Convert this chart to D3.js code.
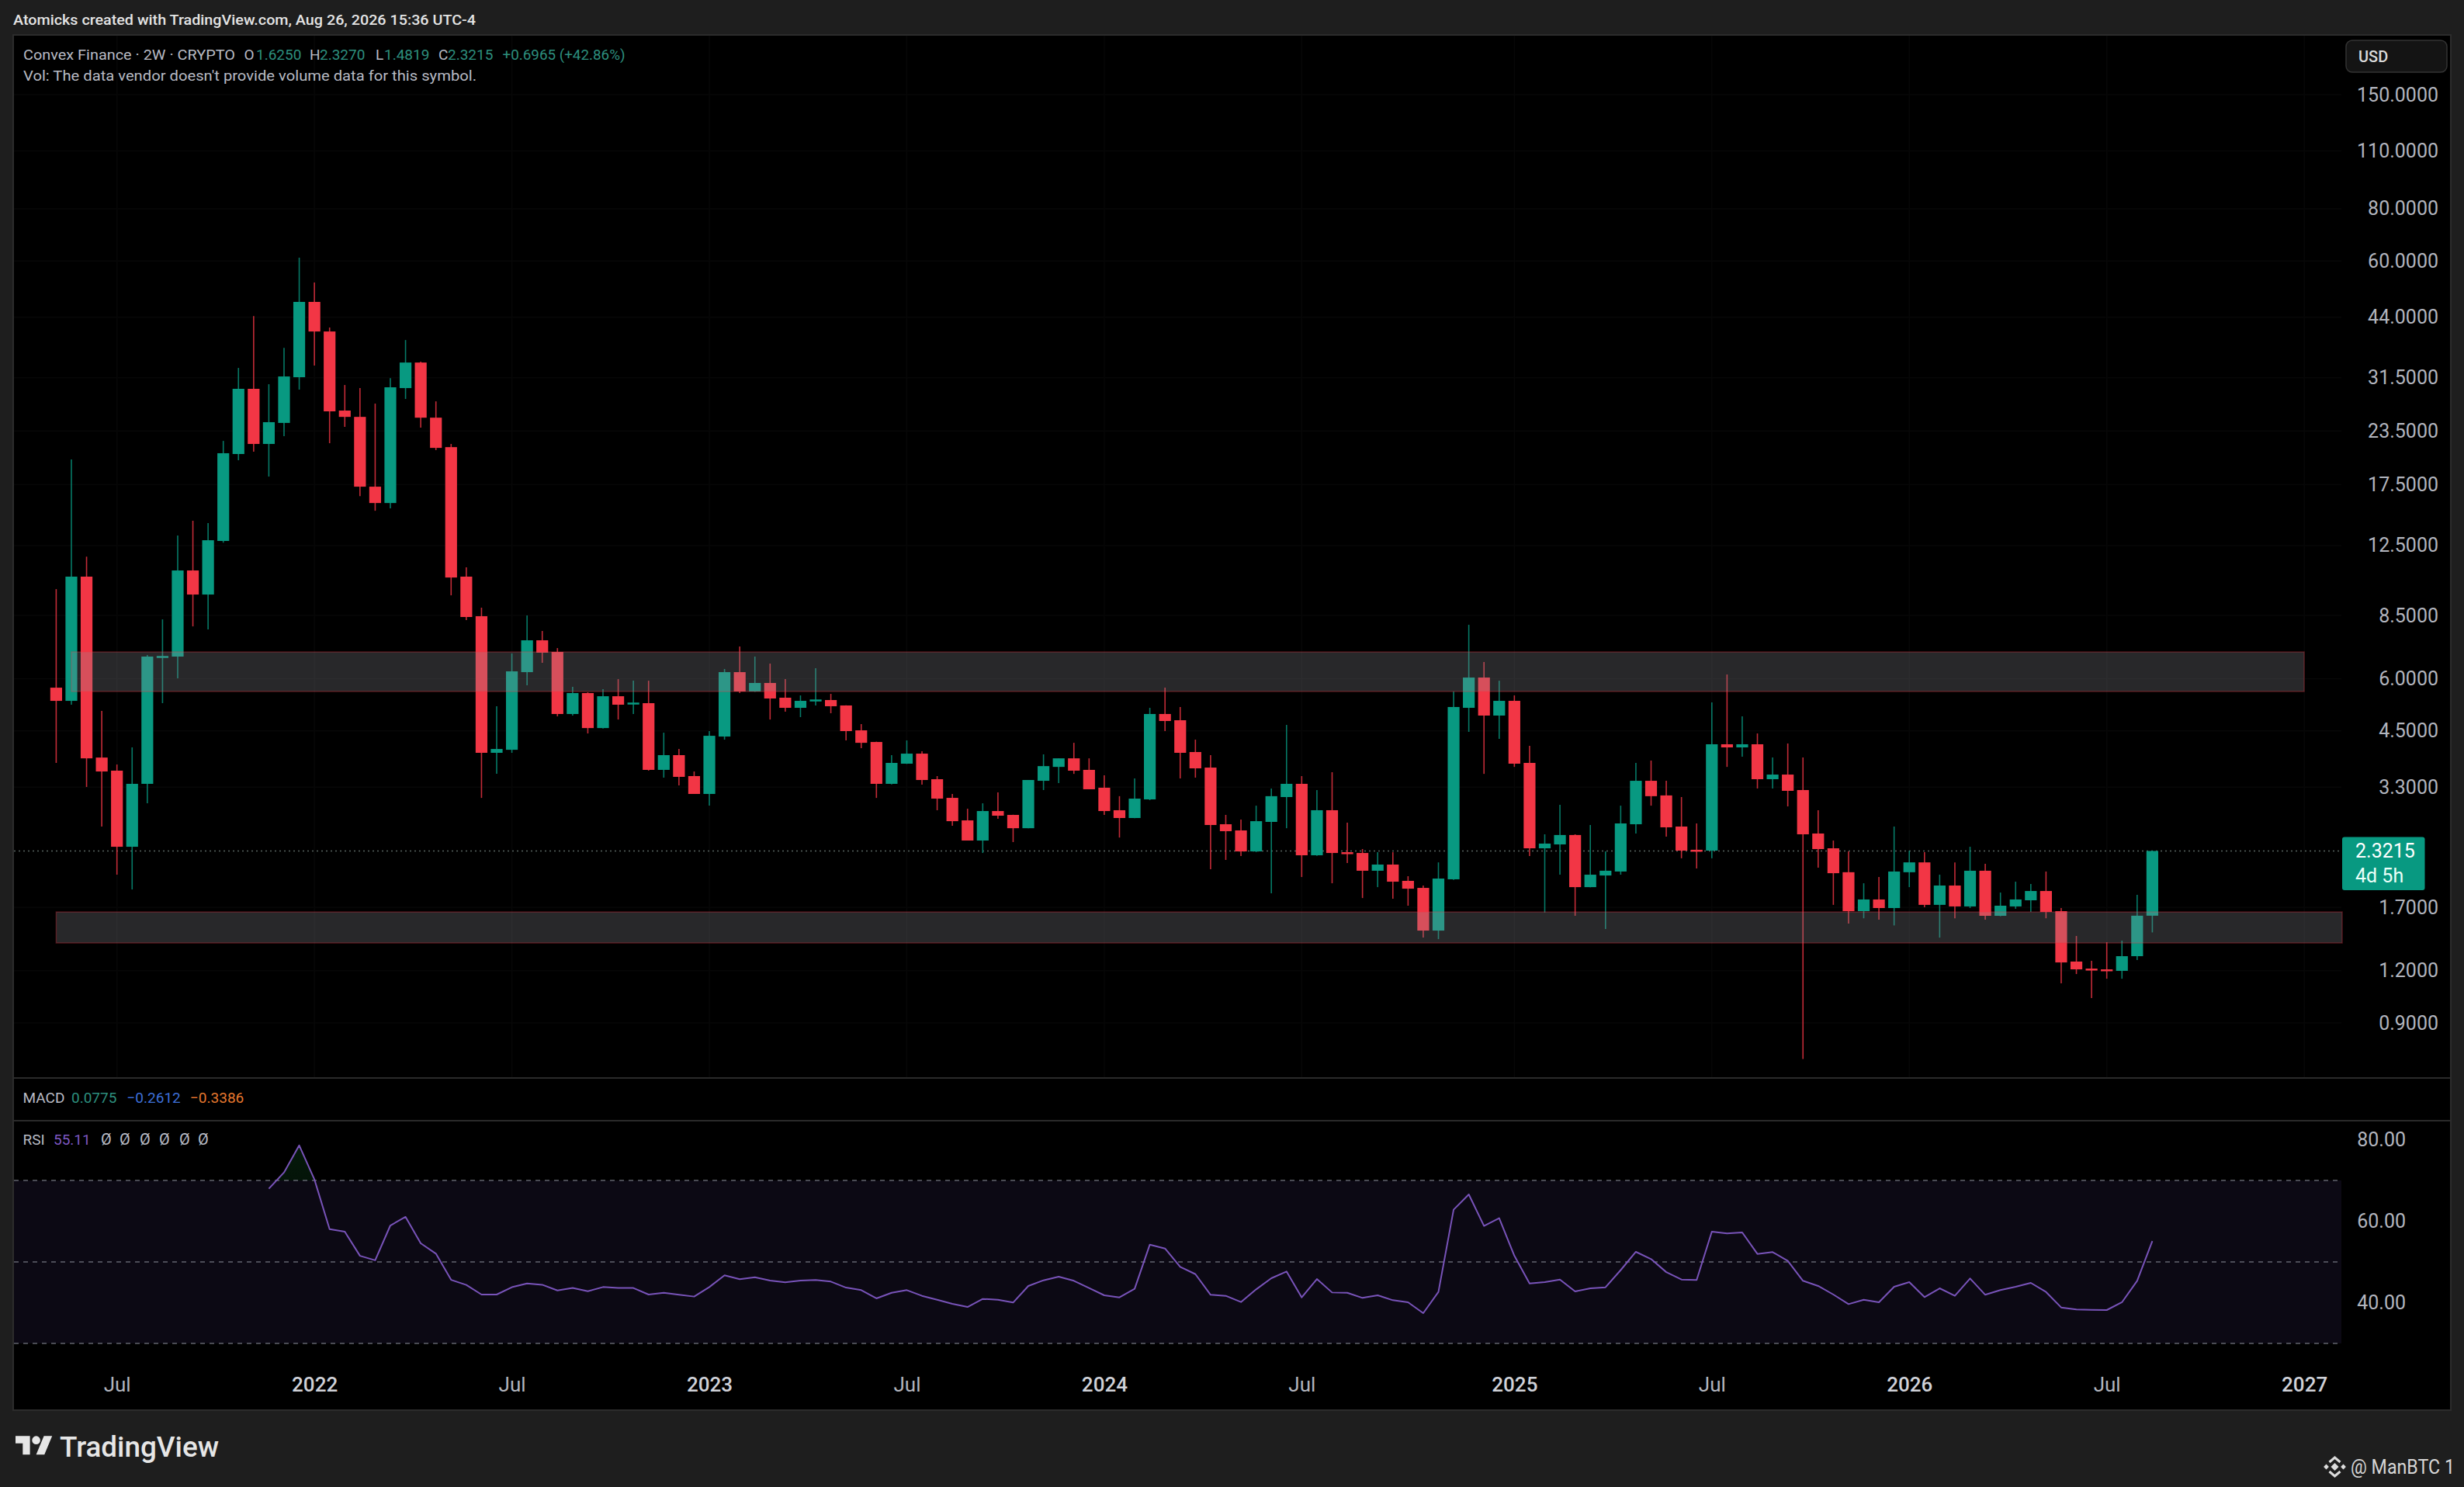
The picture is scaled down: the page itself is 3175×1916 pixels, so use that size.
<!DOCTYPE html>
<html><head><meta charset="utf-8">
<script src="https://cdn.jsdelivr.net/npm/d3@7/dist/d3.min.js"></script>
<style>html,body{margin:0;padding:0;background:#1e1e1e;overflow:hidden}svg{display:block}
text{font-family:Roboto,"Noto Sans",sans-serif}</style></head><body>
<svg id="c" width="3175" height="1916"></svg>
<script>
const open=[5.71,5.31,10.53,3.885,3.614,2.376,3.361,6.75,6.778,10.895,
9.541,12.82,20.70,29.65,21.88,24.57,31.61,47.87,40.67,26.30,
25.40,17.29,15.80,29.77,34.27,25.29,21.50,10.53,8.467,3.988,
4.055,6.221,7.414,6.954,4.939,5.543,4.571,5.447,5.22,5.243,
3.63,3.937,3.508,3.179,4.362,6.221,5.591,5.86,5.403,5.11,
5.32,5.334,5.177,4.514,4.233,3.361,3.756,3.97,3.448,3.111,
2.748,2.459,2.893,2.832,2.632,3.418,3.69,3.868,3.63,3.29,
2.906,2.784,3.085,4.939,4.772,4.005,3.676,2.69,2.6,2.316,
2.725,3.125,3.361,2.267,2.906,2.306,2.296,2.082,2.154,1.969,
1.894,1.497,1.986,5.11,6.038,4.897,5.311,3.772,2.356,2.407,
2.535,1.902,2.028,2.073,2.69,3.418,3.153,2.656,2.337,2.326,
4.18,4.109,4.18,3.448,3.537,3.248,2.556,2.356,2.065,1.666,
1.777,1.695,2.065,2.18,1.725,1.919,1.71,2.082,1.624,1.71,
1.769,1.862,1.666,1.262,1.214,1.209,1.199,1.30,1.625];
const close=[5.31,10.53,3.868,3.598,2.376,3.361,6.778,6.80,10.895,9.541,
12.87,20.79,29.65,21.88,24.67,31.74,47.87,40.67,26.19,25.40,
17.29,15.80,29.90,34.27,25.29,21.41,10.48,8.43,3.988,4.073,
6.248,7.414,6.924,4.939,5.543,4.571,5.447,5.199,5.26,3.63,
3.937,3.493,3.179,4.38,6.221,5.591,5.86,5.38,5.11,5.311,
5.35,5.155,4.495,4.214,3.361,3.772,3.97,3.433,3.098,2.736,
2.459,2.893,2.82,2.632,3.433,3.706,3.868,3.614,3.262,2.893,
2.784,3.098,4.939,4.752,3.988,3.661,2.679,2.589,2.316,2.736,
3.14,3.361,2.267,2.906,2.296,2.287,2.082,2.154,1.96,1.886,
1.497,1.994,5.133,6.038,4.897,5.311,3.756,2.356,2.418,2.535,
1.902,2.037,2.082,2.702,3.418,3.14,2.645,2.326,2.326,4.18,
4.109,4.18,3.448,3.537,3.234,2.545,2.346,2.054,1.666,1.777,
1.695,2.073,2.18,1.725,1.919,1.71,2.082,1.624,1.717,1.777,
1.862,1.659,1.256,1.209,1.204,1.204,1.30,1.625,2.3215];
const high=[9.83,20.09,11.76,5.022,3.739,4.109,6.836,8.32,13.209,14.33,
14.14,22.25,33.27,44.3,30.41,37.17,61.08,53.27,41.57,30.28,
29.77,27.33,31.46,38.8,34.42,27.67,21.88,11.08,8.874,5.155,
6.895,8.502,7.805,7.103,5.736,5.567,5.661,5.986,5.933,5.933,
4.456,4.073,3.598,4.495,6.33,7.165,6.778,6.521,5.986,5.472,
6.357,5.519,5.18,4.672,4.24,3.937,4.27,4.02,3.508,3.179,
2.93,3.019,3.206,2.835,3.433,3.954,3.868,4.214,3.868,3.522,
3.14,3.463,5.11,5.712,5.133,4.288,3.937,2.832,2.76,2.98,
3.276,4.651,3.508,3.248,3.583,2.714,2.346,2.306,2.306,2.02,
1.919,2.18,5.591,8.076,6.578,5.933,5.472,4.144,2.545,2.994,
2.545,2.679,2.316,2.98,3.772,3.821,3.418,3.125,2.702,5.265,
6.14,4.876,4.437,3.885,4.198,3.885,2.906,2.459,2.316,1.943,
2.011,2.656,2.326,2.306,2.037,2.18,2.376,2.163,1.846,1.96,
1.935,2.073,1.695,1.453,1.267,1.404,1.416,1.823,2.327];
const low=[3.772,5.199,3.303,2.656,2.037,1.878,3.019,5.243,6.013,8.005,
7.872,12.70,20.0,20.97,18.28,22.84,29.52,33.70,21.97,24.04,
16.42,15.14,15.34,28.04,23.94,21.15,9.50,8.287,3.11,3.551,
3.988,5.785,6.55,4.876,4.897,4.437,4.56,4.791,4.939,3.614,
3.478,3.332,3.179,2.98,4.288,5.543,5.58,4.791,5.0,4.855,
5.177,4.96,4.27,4.091,3.11,3.35,3.75,3.346,2.906,2.667,
2.459,2.296,2.772,2.438,2.63,3.248,3.375,3.551,3.262,2.832,
2.5,2.78,3.072,4.495,3.463,3.478,2.099,2.21,2.258,2.306,
1.838,2.632,2.011,2.26,1.943,2.172,1.791,1.902,1.784,1.717,
1.44,1.428,1.98,4.476,3.551,4.307,3.69,2.258,1.654,2.037,
1.624,1.9,1.51,2.037,2.556,2.98,2.512,2.23,2.108,2.23,
3.69,3.903,3.276,3.276,2.968,0.738,2.117,1.725,1.556,1.602,
1.589,1.54,1.902,1.702,1.44,1.602,1.695,1.589,1.62,1.688,
1.659,1.602,1.12,1.178,1.032,1.148,1.148,1.272,1.4819];
const rsiStart=14;
const rsi=[67.97,71.97,78.6,70.25,58.06,57.43,51.5,50.4,58.95,61.05,54.57,52.03,45.6,44.35,42.0,42.0,43.8,44.73,44.4,43.0,43.6,42.8,43.84,43.6,43.6,42.0,42.44,41.94,41.5,43.84,46.7,45.75,46.25,45.43,45.0,45.43,45.56,45.17,43.7,
43.08,41.05,42.44,43.08,41.68,40.73,39.71,38.95,40.92,40.73,40.03,44.1,45.49,46.38,45.37,43.59,41.81,41.3,43.4,54.25,53.3,48.8,47.0,41.94,41.68,40.16,43.27,46.0,47.65,41.3,45.8,42.5,42.44,41.17,41.81,40.6,40.1,37.43,42.63,62.83,66.57,58.83,60.73,51.52,44.73,45.05,45.68,42.76,43.52,43.78,48.0,52.48,50.7,47.5,45.68,45.56,57.43,56.98,57.24,51.97,52.41,50.25,45.37,44.1,42.0,39.65,40.73,40.1,43.9,45.05,41.37,43.52,41.68,45.94,41.94,43.08,43.9,44.86,42.63,38.83,38.32,38.25,38.19,40.1,45.37,55.11];
const priceTicks=[150,110,80,60,44,31.5,23.5,17.5,12.5,8.5,6,4.5,3.3,1.7,1.2,0.9];
const rsiTicks=[80,60,40];
const rsiLevels=[70,50,30];
const timeTickBars=[4,17,30,43,56,69,82,96,109,122,135,148];
const timeTickLabels=["Jul","2022","Jul","2023","Jul","2024","Jul","2025","Jul","2026","Jul","2027"];
const zones=[{top:6.954,bottom:5.591,from:1,to:148},{top:1.659,bottom:1.398,from:0,to:150.5}];
const lastPrice=2.3215, countdown="4d 5h";

const svg=d3.select("#c");
const UP="#089981",DOWN="#f23645",AXIS="#b2b5be";
const PL=18,PR=3017,W=3157;
const x=d3.scaleLinear().domain([0,138]).range([72.4,2773.4]);
const y=d3.scaleLog().domain([0.9,150]).range([1318,122]);
const yR=d3.scaleLinear().domain([30,70]).range([1731,1521]);

// frame
svg.append("rect").attr("width",3175).attr("height",1916).attr("fill","#1e1e1e");
svg.append("rect").attr("x",PL-1).attr("y",45).attr("width",W-PL+2).attr("height",1772).attr("fill","#000").attr("stroke","#2c2c2c").attr("stroke-width",2);

// grid
const grid=svg.append("g").attr("stroke","#070707").attr("stroke-width",1.5);
grid.selectAll("line.h").data(priceTicks).join("line").attr("x1",PL).attr("x2",PR).attr("y1",d=>y(d)).attr("y2",d=>y(d));
grid.selectAll("line.v").data(timeTickBars).join("line").attr("x1",d=>x(d)).attr("x2",d=>x(d)).attr("y1",46).attr("y2",1389);

// panes
svg.selectAll("line.sep").data([1389,1444]).join("line").attr("x1",PL).attr("x2",W).attr("y1",d=>d).attr("y2",d=>d).attr("stroke","#2a2a2a").attr("stroke-width",2);

// last price line
svg.append("line").attr("x1",PL).attr("x2",PR).attr("y1",y(lastPrice)).attr("y2",y(lastPrice)).attr("stroke","#7d8c88").attr("stroke-width",1.5).attr("stroke-dasharray","2 4").attr("opacity",.7);

// candles
const bars=d3.range(open.length).map(i=>({i,o:open[i],h:high[i],l:low[i],c:close[i]}));
const col=d=>d.c>=d.o?UP:DOWN;
const g=svg.append("g");
g.selectAll("line.wick").data(bars).join("line").attr("x1",d=>x(d.i)).attr("x2",d=>x(d.i)).attr("y1",d=>y(d.h)).attr("y2",d=>y(d.l)).attr("stroke",col).attr("stroke-width",1.6).attr("stroke-opacity",.8);
g.selectAll("rect").data(bars).join("rect").attr("x",d=>x(d.i)-7.6).attr("width",15.2)
 .attr("y",d=>Math.min(y(d.o),y(d.c))).attr("height",d=>Math.max(2.5,Math.abs(y(d.o)-y(d.c)))).attr("fill",col);

// zones
zones.forEach(z=>{
 svg.append("rect").attr("x",x(z.from)).attr("width",x(z.to)-x(z.from)).attr("y",y(z.top)).attr("height",y(z.bottom)-y(z.top))
  .attr("fill","#8e8e96").attr("fill-opacity",.28).attr("stroke","#f23645").attr("stroke-opacity",.3).attr("stroke-width",1.5);
});

// price axis
const ay=svg.append("g").attr("transform",`translate(3142,0)`).call(d3.axisRight(y).tickValues(priceTicks).tickSize(0).tickFormat(d3.format(".4f")));
ay.select(".domain").remove();
ay.selectAll("text").attr("x",0).attr("text-anchor","end").attr("fill",AXIS).style("font-size","25px").style("font-family","Roboto");

// tag
const ty=y(lastPrice);
svg.append("rect").attr("x",3018).attr("y",ty-18).attr("width",106.5).attr("height",68.5).attr("rx",3).attr("fill",UP);
svg.append("text").attr("x",3035).attr("y",ty).attr("dy",".36em").attr("fill","#fff").style("font-size","25px").text(d3.format(".4f")(lastPrice));
svg.append("text").attr("x",3035).attr("y",ty+32).attr("dy",".36em").attr("fill","#eafff8").style("font-size","25px").text(countdown);

// USD button
svg.append("rect").attr("x",3023).attr("y",52).attr("width",130).attr("height",41).attr("rx",8).attr("fill","#141414").attr("stroke","#333").attr("stroke-width",1.5);
svg.append("text").attr("x",3039).attr("y",73).attr("dy",".36em").attr("fill","#dbdbdb").attr("font-weight",500).style("font-size","20px").text("USD");

// RSI
svg.append("rect").attr("x",PL).attr("width",PR-PL).attr("y",yR(70)).attr("height",yR(30)-yR(70)).attr("fill","#0c0914");
const rsiPts=rsi.map((v,k)=>[k+rsiStart,v]);
const defs=svg.append("defs");
const gr=defs.append("linearGradient").attr("id","ob").attr("x1",0).attr("x2",0).attr("y1",0).attr("y2",1);
gr.append("stop").attr("offset",0).attr("stop-color","#0a3a18").attr("stop-opacity",.45);
gr.append("stop").attr("offset",1).attr("stop-color","#0a2a12").attr("stop-opacity",.05);
defs.append("clipPath").attr("id","above").append("rect").attr("x",PL).attr("width",PR-PL).attr("y",1445).attr("height",yR(70)-1445);
svg.append("path").datum(rsiPts).attr("clip-path","url(#above)").attr("fill","url(#ob)")
 .attr("d",d3.area().x(d=>x(d[0])).y0(yR(70)).y1(d=>yR(d[1])));
svg.selectAll("line.lv").data(rsiLevels).join("line").attr("x1",PL).attr("x2",PR).attr("y1",d=>yR(d)).attr("y2",d=>yR(d))
 .attr("stroke","#787b86").attr("stroke-width",1.5).attr("stroke-dasharray","6 6").attr("opacity",.8);
svg.append("path").datum(rsiPts).attr("fill","none").attr("stroke","#7e57c2").attr("stroke-width",2).attr("stroke-opacity",.95).attr("stroke-linejoin","round")
 .attr("d",d3.line().x(d=>x(d[0])).y(d=>yR(d[1])));
const ar=svg.append("g").attr("transform","translate(3100,0)").call(d3.axisRight(yR).tickValues(rsiTicks).tickSize(0).tickFormat(d3.format(".2f")));
ar.select(".domain").remove();
ar.selectAll("text").attr("x",0).attr("text-anchor","end").attr("fill",AXIS).style("font-size","25px").style("font-family","Roboto");

// time axis
const ax=svg.append("g").attr("transform","translate(0,1775)").call(d3.axisBottom(x).tickValues(timeTickBars).tickSize(0).tickFormat((d,i)=>timeTickLabels[i]));
ax.select(".domain").remove();
ax.selectAll("text").attr("y",0).attr("dy",".71em").style("font-size","26px").style("font-family","Roboto")
 .attr("fill",(d,i)=>timeTickLabels[i]==="Jul"?AXIS:"#cfd1d8").attr("font-weight",(d,i)=>timeTickLabels[i]==="Jul"?400:500);

// legends
function t(xp,yp,s,c,size=19,w=400,len){const e=svg.append("text").attr("x",xp).attr("y",yp).attr("dy",".36em").attr("fill",c).attr("font-weight",w).style("font-size",size+"px").text(s);if(len)e.attr("textLength",len).attr("lengthAdjust","spacingAndGlyphs");return e;}
t(17,25,"Atomicks created with TradingView.com, Aug 26, 2026 15:36 UTC-4","#e4e4e4",19,500,596);
const L="#b8bbc4",G="#2d8f7e";
t(30,70,"Convex Finance · 2W · CRYPTO",L,19,400,273);
t(314.6,70,"O",L);t(330,70,"1.6250",G);t(399,70,"H",L);t(412,70,"2.3270",G);t(484,70,"L",L);t(495,70,"1.4819",G);t(565,70,"C",L);t(577,70,"2.3215",G);
t(647.5,70,"+0.6965 (+42.86%)",G,19,400,158);
t(30,97,"Vol: The data vendor doesn't provide volume data for this symbol.",L,19,400,584);
t(29.5,1414,"MACD",L);t(92,1414,"0.0775",G);t(163.5,1414,"−0.2612","#3d6fd8");t(245,1414,"−0.3386","#e5772e");
t(29.5,1468,"RSI",L);t(69,1468,"55.11","#7e57c2");
[130,154,180,205,231,255].forEach(p=>t(p,1468,"Ø",L,20));

// footer
const logo=svg.append("g").attr("transform","translate(20,1845) scale(1.33)").attr("fill","#e6e6e6");
logo.append("path").attr("d","M14 22H7V11H0V4h14v18zM28 22h-8l7.5-18h8L28 22z");
logo.append("circle").attr("cx",20).attr("cy",8).attr("r",4);
t(77,1864,"TradingView","#e6e6e6",37,500,205);
const wm=svg.append("g").attr("transform","translate(3008.5,1890)");
wm.append("path").attr("d","M-7,-6 L0,-12 L7,-6 M-7,6 L0,12 L7,6").attr("fill","none").attr("stroke","#dcdcdc").attr("stroke-width",3);
[[0,0,3.6],[-11,0,2.4],[11,0,2.4]].forEach(([a,b,s])=>wm.append("rect").attr("x",a-s).attr("y",b-s).attr("width",2*s).attr("height",2*s).attr("transform",`rotate(45 ${a} ${b})`).attr("fill","#dcdcdc"));
t(3029,1890,"@ ManBTC 1","#d6d6d6",25,400,134);
</script></body></html>
